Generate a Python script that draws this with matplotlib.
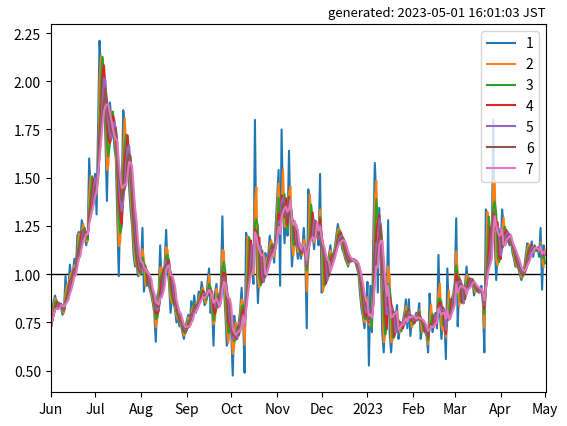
import matplotlib
matplotlib.use("Agg")
import matplotlib.pyplot as plt
import matplotlib.dates as mdates
import numpy as np
import pandas as pd

plt.rcParams['font.family'] = ['Noto Sans CJK JP', 'DejaVu Sans']

start_date = '2022-06-01'
title_text = 'generated: 2023-05-01 16:01:03 JST'
windows = [1, 2, 3, 4, 5, 6, 7]

daily = [
    0.72, 0.80, 0.86, 0.89, 0.84, 0.82, 0.84, 0.83, 0.79, 0.81,
    0.99, 0.90, 0.93, 1.05, 0.97, 1.01, 1.08, 1.02, 1.20, 1.22,
    1.16, 1.28, 1.24, 1.20, 1.15, 1.19, 1.60, 1.42, 1.50, 1.46,
    1.52, 1.31, 1.75, 2.21, 2.05, 2.12, 1.95, 1.70, 1.38, 1.75,
    1.89, 1.80, 1.84, 1.66, 1.60, 1.30, 0.99, 1.35, 1.40, 1.85,
    1.77, 1.55, 1.71, 1.45, 1.33, 1.25, 1.10, 1.04, 1.05, 0.99,
    1.00, 1.02, 1.24, 0.91, 0.98, 0.94, 0.95, 0.92, 0.89, 0.85,
    0.80, 0.65, 0.88, 0.92, 1.15, 0.92, 1.00, 1.05, 1.23, 1.02,
    0.95, 0.80, 0.90, 0.85, 0.82, 0.75, 0.78, 0.73, 0.74, 0.70,
    0.665, 0.72, 0.76, 0.79, 0.74, 0.86, 0.80, 0.89, 0.80, 0.84,
    0.91, 0.88, 0.96, 0.90, 0.84, 0.86, 0.96, 1.03, 0.80, 0.85,
    0.63, 0.90, 0.95, 0.84, 0.85, 0.95, 1.30, 0.94, 0.80, 0.63,
    0.66, 0.84, 0.70, 0.475, 0.785, 0.72, 0.68, 0.75, 0.81, 0.93,
    0.78, 0.49, 1.215, 1.18, 1.18, 1.13, 1.05, 0.95, 1.80, 1.10,
    0.85, 1.01, 0.97, 1.00, 0.97, 1.11, 1.06, 1.10, 1.20, 1.15,
    1.12, 1.06, 1.25, 1.40, 1.54, 0.94, 1.75, 1.335, 1.16, 1.33,
    1.20, 1.64, 1.27, 1.04, 1.15, 1.27, 1.15, 1.08, 1.16, 1.08,
    1.12, 1.24, 1.10, 0.72, 1.44, 1.39, 1.25, 1.20, 1.13, 1.25,
    1.22, 1.15, 1.52, 0.905, 0.92, 1.00, 0.98, 1.04, 1.10, 1.15,
    1.06, 1.10, 1.14, 1.20, 1.26, 1.215, 1.18, 1.13, 1.11, 1.08,
    1.06, 1.04, 1.09, 1.08, 1.07, 1.07, 1.06, 1.03, 1.00, 0.90,
    0.82, 0.78, 0.72, 0.80, 0.96, 0.527, 0.94, 0.70, 1.20, 1.577,
    1.39, 0.905, 1.344, 1.10, 0.70, 0.595, 0.77, 0.80, 1.28, 0.70,
    0.595, 0.72, 0.70, 0.78, 0.84, 0.665, 0.73, 0.72, 0.76, 0.80,
    0.87, 0.72, 0.87, 0.68, 0.77, 0.77, 0.77, 0.80, 0.78, 0.85,
    0.665, 0.73, 0.72, 0.70, 0.68, 0.595, 0.90, 0.785, 0.70, 0.75,
    0.80, 0.72, 1.10, 0.80, 0.665, 0.75, 0.785, 0.56, 1.03, 0.80,
    0.785, 0.87, 0.90, 0.95, 1.29, 0.73, 0.94, 0.90, 0.85, 0.85,
    0.95, 1.04, 0.94, 0.96, 0.97, 0.97, 0.89, 0.92, 0.93, 0.905,
    0.905, 0.94, 0.85, 0.595, 1.336, 1.31, 1.25, 1.08, 1.15, 1.80,
    1.18, 0.97, 1.12, 1.10, 1.12, 1.336, 1.25, 1.15, 1.18, 1.18,
    1.15, 1.18, 1.11, 1.08, 1.04, 1.04, 1.03, 1.00, 0.97, 1.00,
    1.04, 1.10, 1.16, 1.15, 1.12, 1.17, 1.09, 1.15, 1.12, 1.14,
    1.09, 1.24, 0.92, 1.15, 1.10,
]

dates = pd.date_range(start_date, periods=len(daily), freq='D')
s = pd.Series(daily, index=dates)

fig = plt.figure(figsize=(5.67, 4.27), dpi=100)
ax = fig.add_axes([0.0894, 0.0789, 0.963 - 0.0894, 0.9415 - 0.0789])

ax.axhline(1.0, color='black', linewidth=1)
for w in windows:
    ax.plot(s.index, s.rolling(w, min_periods=1).mean().values, label=str(w))

ax.set_xlim(dates[0], dates[-1] + pd.Timedelta(hours=16))
locator = mdates.MonthLocator()
ax.xaxis.set_major_locator(locator)
ax.xaxis.set_major_formatter(mdates.ConciseDateFormatter(locator, show_offset=False))
ax.yaxis.set_major_formatter(matplotlib.ticker.FormatStrFormatter('%.2f'))

ax.set_title(title_text, loc='right', fontsize=9.5)
ax.legend(loc='upper right')

fig.savefig('out.png', dpi=100)
